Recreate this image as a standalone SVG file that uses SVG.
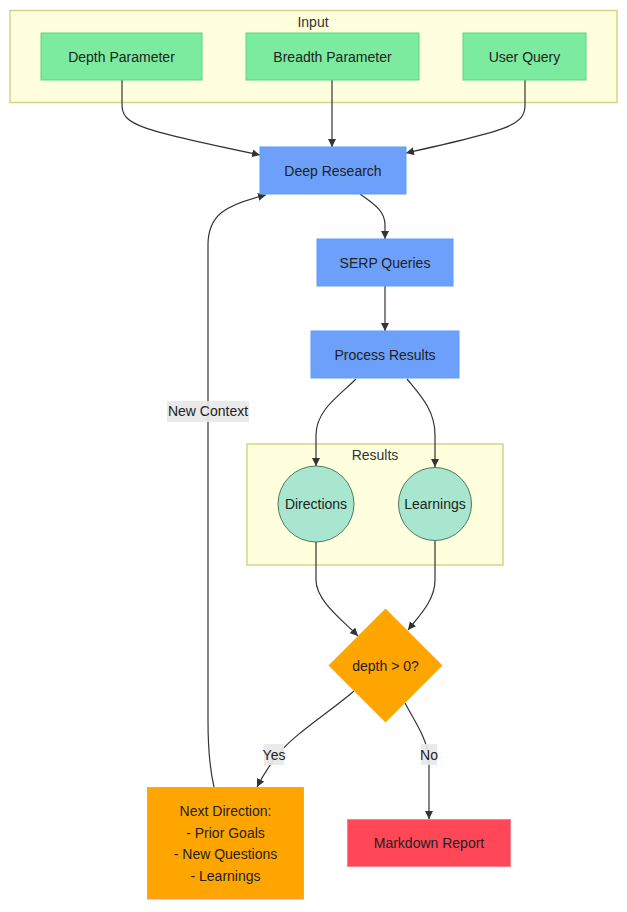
<svg xmlns="http://www.w3.org/2000/svg" width="627" height="912" viewBox="0 0 627 912">
<style>
text{font-family:"Liberation Sans",Arial,sans-serif;font-size:14px;fill:#222;text-anchor:middle;dominant-baseline:central}
.cl{fill:#ffffde;stroke:#d3d38a;stroke-width:1.5}
.ct{fill:#333}
.in{fill:#7beb9f;stroke:#5bd681;stroke-width:1}
.bl{fill:#6ca0fa;stroke:#5aa0ff;stroke-width:1}
.ci{fill:#a8e6cf;stroke:#4d7a5f;stroke-width:1}
.or{fill:#ffa500;stroke:#ff9b6a;stroke-width:1}
.rd{fill:#ff4757;stroke:#ff7f8f;stroke-width:1}
.e{fill:none;stroke:#333;stroke-width:1.2}
.lb{fill:#e8e8e8;opacity:0.9}
</style>
<defs>
<marker id="ah" viewBox="0 0 10 10" refX="10" refY="5" markerWidth="8" markerHeight="8" orient="auto" markerUnits="userSpaceOnUse">
<path d="M0,0 L10,5 L0,10 z" fill="#333"/>
</marker>
</defs>
<g id="cluster-input">
<rect class="cl" x="10" y="10.5" width="607" height="92"/>
<text class="ct" x="313" y="22">Input</text>
</g>
<g id="cluster-results">
<rect class="cl" x="247" y="444" width="256" height="121"/>
<text class="ct" x="375" y="455">Results</text>
</g>
<g id="edges">
<path class="e" marker-end="url(#ah)" d="M122,80 L122,105 C122,125 140,130 260,155"/>
<path class="e" marker-end="url(#ah)" d="M332,80 L332,147"/>
<path class="e" marker-end="url(#ah)" d="M525,80 L525,105 C525,125 510,130 406,153"/>
<path class="e" marker-end="url(#ah)" d="M360,194 C372,203 385,210 385,225 L385,239"/>
<path class="e" marker-end="url(#ah)" d="M385,286 L385,331"/>
<path class="e" marker-end="url(#ah)" d="M356,379 C340,395 316,410 316,435 L316,466"/>
<path class="e" marker-end="url(#ah)" d="M407,379 C420,395 435,410 435,435 L435,467"/>
<path class="e" marker-end="url(#ah)" d="M316,542 L316,580 C316,600 340,618 358,636"/>
<path class="e" marker-end="url(#ah)" d="M435,541 L435,580 C435,600 420,615 408,630"/>
<path class="e" marker-end="url(#ah)" d="M354,691 C330,712 292,735 275,758 C268,768 262,777 257,787"/>
<path class="e" marker-end="url(#ah)" d="M405,703 C415,722 428,740 429,760 L429,819"/>
<path class="e" marker-end="url(#ah)" d="M214,787 C210,770 208,750 208,720 L208,245 C208,215 225,205 266,195"/>
</g>
<g id="edge-labels">
<rect class="lb" x="167" y="401" width="82" height="21"/>
<text x="208" y="411">New Context</text>
<rect class="lb" x="264" y="744" width="20" height="21"/>
<text x="274" y="755">Yes</text>
<rect class="lb" x="421" y="744" width="16" height="21"/>
<text x="429" y="755">No</text>
</g>
<g id="depth-parameter">
<rect class="in" x="41" y="33" width="161" height="47"/>
<text x="121.5" y="57">Depth Parameter</text>
</g>
<g id="breadth-parameter">
<rect class="in" x="246" y="33" width="173" height="47"/>
<text x="332.5" y="57">Breadth Parameter</text>
</g>
<g id="user-query">
<rect class="in" x="463" y="33" width="123" height="47"/>
<text x="524.5" y="57">User Query</text>
</g>
<g id="deep-research">
<rect class="bl" x="260" y="147" width="146" height="47"/>
<text x="333" y="171">Deep Research</text>
</g>
<g id="serp-queries">
<rect class="bl" x="317" y="239" width="136" height="47"/>
<text x="385" y="263">SERP Queries</text>
</g>
<g id="process-results">
<rect class="bl" x="311" y="331" width="148" height="47"/>
<text x="385" y="355">Process Results</text>
</g>
<g id="directions">
<circle class="ci" cx="316" cy="504" r="38"/>
<text x="316" y="504">Directions</text>
</g>
<g id="learnings">
<circle class="ci" cx="435" cy="504" r="36.5"/>
<text x="435" y="504">Learnings</text>
</g>
<g id="decision">
<polygon class="or" points="385.5,609 442,665.5 385.5,722 329,665.5" style="stroke:#ffa500"/>
<text x="385.5" y="666">depth &gt; 0?</text>
</g>
<g id="next-direction">
<rect class="or" x="147.5" y="787.5" width="156" height="111.5"/>
<text x="225.5" y="811">Next Direction:</text>
<text x="225.5" y="833">- Prior Goals</text>
<text x="225.5" y="854">- New Questions</text>
<text x="225.5" y="875.5">- Learnings</text>
</g>
<g id="markdown-report">
<rect class="rd" x="347.5" y="819.5" width="163" height="47"/>
<text x="429" y="843">Markdown Report</text>
</g>
</svg>
